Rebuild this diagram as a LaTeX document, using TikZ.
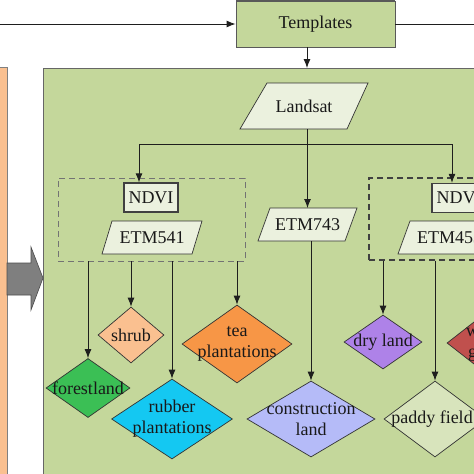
\documentclass[tikz,border=0pt]{standalone}
\usepackage{fontspec}
\setmainfont{Liberation Serif}
\usetikzlibrary{shapes.geometric,arrows.meta,calc}
\definecolor{bggreen}{HTML}{C4D79B}
\definecolor{palegreen}{HTML}{EBF1DE}
\definecolor{lorange}{HTML}{FAC090}
\definecolor{dorange}{HTML}{F79646}
\definecolor{fgreen}{HTML}{3BBF55}
\definecolor{rcyan}{HTML}{14C8F2}
\definecolor{dpurple}{HTML}{AE82E8}
\definecolor{clav}{HTML}{B5BBF8}
\definecolor{pfield}{HTML}{D8E4BC}
\definecolor{wred}{HTML}{C0504D}
\definecolor{lnk}{HTML}{1E1E1E}
\definecolor{garrow}{HTML}{7F7F7F}
\begin{document}
\begin{tikzpicture}[x=1pt,y=-1pt,
  every node/.style={font=\fontsize{18}{21}\selectfont, text=black!90, align=center},
  link/.style={draw=lnk, line width=0.9pt},
  arr/.style={link, -{Latex[length=9pt,width=7pt]}},
  dia/.style={diamond, draw=black!80, line width=0.7pt, inner sep=0pt},
  para/.style={draw=black!80, line width=0.7pt, fill=palegreen},
  boxn/.style={rectangle, draw=black!75, line width=1.3pt, fill=palegreen, inner sep=0pt, minimum width=54pt, minimum height=29pt},
  dashL/.style={rectangle, draw=black!55, line width=0.9pt, dash pattern=on 6pt off 4pt, inner sep=0pt},
  dashR/.style={rectangle, draw=black!75, line width=1.2pt, dash pattern=on 6pt off 4pt, inner sep=0pt},
  ]
\clip (0,0) rectangle (474,474);
\fill[white] (0,0) rectangle (474,474);
% left orange strip
\draw[draw=black!50, fill=lorange, line width=0.6pt] (-3,67) rectangle (7,480);
% big green area
\draw[draw=black!60, line width=0.8pt, fill=bggreen] (43,68) rectangle (480,480);
% gray block arrow
\draw[fill=garrow, draw=black!70, line width=0.6pt] (7,263) -- (31,263) -- (31,247) -- (43,278) -- (31,310) -- (31,295) -- (7,295) -- cycle;

% Templates
\node[rectangle, draw=black!65, line width=0.9pt, fill=bggreen, minimum width=159pt, minimum height=46pt, inner sep=0pt] (tmpl) at (315.5,24) {Templates};
\draw[black!65, line width=2.5pt] (tmpl.north west) -- (tmpl.north east);
\coordinate (inL) at (0,24);
\coordinate (outR) at (474,24);
\coordinate (areaTop) at (307,68);
\draw[arr] (inL) -- (tmpl.west);
\draw[link] (tmpl.east) -- (outR);
\draw[arr] (tmpl.south -| areaTop) -- (areaTop);

% Landsat
\draw[para] (240,129) -- (267,83) -- (368,83) -- (347,129) -- cycle;
\node (landsat) at (304,106) {Landsat};
\coordinate (landsatB) at (307.5,129);
\coordinate (split) at (307.5,144);
\coordinate (jL) at (139,144);
\coordinate (jR) at (452,144);
\draw[link] (landsatB) -- (split);
\draw[link] (jL) -- (jR);

% dashed groups
\node[dashL, minimum width=187pt, minimum height=83pt] (boxL) at (151.5,219.5) {};
\node[dashR, minimum width=151pt, minimum height=82pt] (boxR) at (444.5,219) {};

% NDVI boxes
\node[boxn] (ndviL) at (151,197.5) {NDVI};
\node[boxn] (ndviR) at (459,198) {NDVI};
\draw[arr] (jL) -- (jL |- ndviL.north);
\draw[arr] (jR) -- (jR |- ndviR.north);

% ETM parallelograms
\draw[para] (102,254) -- (112,221) -- (202,221) -- (192,254) -- cycle;
\node (etm541) at (152,238) {ETM541};
\draw[para] (398,254) -- (410,221) -- (501,221) -- (489,254) -- cycle;
\node (etm453) at (449.5,238) {ETM453};
\draw[para] (258,241) -- (270,208) -- (357,208) -- (345,241) -- cycle;
\node (etm743) at (307.5,225) {ETM743};
\coordinate (e743T) at (307.5,208);
\coordinate (e743B) at (311,241);
\draw[arr] (split) -- (e743T);

% diamonds
\node[dia, fill=lorange, minimum width=66pt, minimum height=56pt] (shrub) at (131,335) {};
\node at (shrub) {shrub};
\node[dia, fill=fgreen, minimum width=84pt, minimum height=59pt] (forest) at (88,388) {};
\node at (forest) {forestland};
\node[dia, fill=rcyan, minimum width=121pt, minimum height=80pt] (rubber) at (172,419) {};
\node at (rubber) {rubber\\plantations};
\node[dia, fill=dorange, minimum width=110pt, minimum height=78pt] (tea) at (237,344) {};
\node at (tea) {tea\\plantations};
\node[dia, fill=clav, minimum width=128pt, minimum height=76pt] (constr) at (311,419) {};
\node at (constr) {construction\\land};
\node[dia, fill=dpurple, minimum width=78pt, minimum height=54pt] (dry) at (383,342) {};
\node at (dry) {dry land};
\node[dia, fill=pfield, minimum width=102pt, minimum height=76pt] (paddy) at (435,419) {};
\node at (432,419) {paddy field};
\node[dia, fill=wred, minimum width=110pt, minimum height=86pt] (waste) at (502,343) {};
\node at (waste) {wasteland\\grassland};

% connectors to classes
\draw[arr] (forest.north |- boxL.south) -- (forest.north);
\draw[arr] (shrub.north |- boxL.south) -- (shrub.north);
\draw[arr] (rubber.north |- boxL.south) -- (rubber.north);
\draw[arr] (tea.north |- boxL.south) -- (tea.north);
\draw[arr] (e743B) -- (constr.north);
\draw[arr] (dry.north |- boxR.south) -- (dry.north);
\draw[arr] (paddy.north |- boxR.south) -- (paddy.north);
\end{tikzpicture}
\end{document}
